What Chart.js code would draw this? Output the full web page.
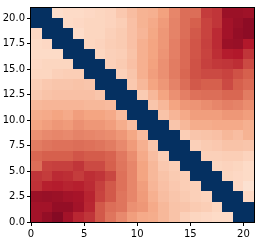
<!DOCTYPE html>
<html>
<head>
<meta charset="utf-8">
<script src="https://cdn.jsdelivr.net/npm/chart.js@4.4.0/dist/chart.umd.min.js"></script>
<style>
  html, body { margin: 0; padding: 0; background: #fff; }
</style>
</head>
<body>
<canvas id="grafico" width="259" height="244"></canvas>
<script>
// ticks
const xTicks = [0, 5, 10, 15, 20];
const yTicks = [0, 2.5, 5, 7.5, 10, 12.5, 15, 17.5, 20];

// valores das células, linha de cima (y=20) até a de baixo (y=0), colunas x=0..20
const grade = [
  [0, 0, .59, .60, .60, .605, .61, .615, .635, .655, .675, .68, .705, .745, .78, .78, .85, .86, .93, .93, .925],
  [0, 0, 0, .60, .605, .61, .61, .615, .625, .65, .675, .69, .715, .75, .78, .80, .84, .86, .92, .935, .95],
  [.605, 0, 0, 0, .595, .61, .61, .62, .63, .65, .67, .695, .72, .75, .78, .81, .84, .875, .92, .94, .95],
  [.60, .605, 0, 0, 0, .61, .615, .625, .63, .65, .68, .70, .72, .755, .785, .815, .845, .875, .93, .935, .90],
  [.60, .60, .60, 0, 0, 0, .61, .62, .625, .645, .68, .70, .725, .755, .785, .815, .84, .87, .895, .90, .86],
  [.605, .61, .61, .61, 0, 0, 0, .62, .63, .65, .68, .705, .73, .76, .785, .82, .845, .855, .86, .87, .83],
  [.61, .61, .62, .625, .625, 0, 0, 0, .62, .64, .68, .71, .73, .76, .79, .82, .83, .83, .84, .82, .80],
  [.625, .635, .64, .64, .645, .64, 0, 0, 0, .635, .665, .70, .72, .75, .78, .81, .80, .80, .83, .80, .785],
  [.635, .645, .65, .65, .65, .65, .64, 0, 0, 0, .63, .665, .70, .73, .755, .775, .78, .78, .79, .79, .76],
  [.665, .67, .67, .67, .67, .665, .665, .66, 0, 0, 0, .64, .665, .70, .72, .725, .735, .745, .755, .75, .735],
  [.685, .69, .70, .69, .71, .70, .70, .69, .66, 0, 0, 0, .645, .67, .69, .71, .71, .71, .72, .72, .71],
  [.70, .71, .72, .715, .73, .72, .72, .71, .685, .655, 0, 0, 0, .64, .665, .685, .685, .69, .69, .69, .68],
  [.73, .74, .745, .74, .75, .745, .74, .735, .72, .695, .66, 0, 0, 0, .625, .64, .645, .65, .665, .655, .675],
  [.76, .77, .775, .775, .78, .775, .77, .76, .74, .715, .68, .64, 0, 0, 0, .62, .63, .635, .645, .645, .64],
  [.79, .80, .80, .80, .815, .805, .805, .795, .765, .735, .69, .655, .625, 0, 0, 0, .62, .62, .625, .625, .615],
  [.78, .84, .845, .845, .86, .83, .83, .80, .77, .745, .70, .665, .635, .625, 0, 0, 0, .61, .615, .61, .60],
  [.86, .85, .875, .87, .85, .87, .86, .835, .775, .745, .70, .665, .645, .63, .625, 0, 0, 0, .61, .605, .60],
  [.865, .89, .895, .885, .89, .875, .845, .81, .775, .745, .71, .67, .65, .635, .625, .62, 0, 0, 0, .605, .58],
  [.93, .935, .93, .92, .915, .885, .84, .81, .77, .745, .715, .68, .655, .64, .63, .62, .615, 0, 0, 0, .605],
  [.92, .92, .94, .94, .92, .88, .81, .78, .77, .73, .72, .69, .665, .645, .64, .63, .625, .61, 0, 0, 0],
  [.92, .94, .96, .92, .88, .86, .81, .77, .74, .71, .69, .685, .665, .645, .62, .61, .605, .60, .60, 0, 0]
];

// RdBu_r
const paleta = ['#053061', '#2166ac', '#4393c3', '#92c5de', '#d1e5f0', '#f7f7f7',
                '#fddbc7', '#f4a582', '#d6604d', '#b2182b', '#67001f'];

function hex(h) {
  return [1, 3, 5].map(i => parseInt(h.substr(i, 2), 16));
}
function cor(v) {
  const t = Math.max(0, Math.min(1, v)) * (paleta.length - 1);
  const i = Math.min(Math.floor(t), paleta.length - 2);
  const f = t - i;
  const a = hex(paleta[i]), b = hex(paleta[i + 1]);
  const c = a.map((x, k) => Math.round(x + f * (b[k] - x)));
  return `rgb(${c[0]},${c[1]},${c[2]})`;
}

const n = grade.length;
const celulas = [];
grade.forEach((linha, r) => {
  linha.forEach((v, c) => celulas.push({ x: c + 0.5, y: n - 1 - r + 0.5, v: v }));
});

const mapaCalor = {
  id: 'mapaCalor',
  beforeDatasetsDraw(chart) {
    const { ctx, scales: { x, y } } = chart;
    ctx.save();
    chart.data.datasets[0].data.forEach(p => {
      const x0 = Math.round(x.getPixelForValue(p.x - 0.5));
      const x1 = Math.round(x.getPixelForValue(p.x + 0.5));
      const y0 = Math.round(y.getPixelForValue(p.y + 0.5));
      const y1 = Math.round(y.getPixelForValue(p.y - 0.5));
      ctx.fillStyle = cor(p.v);
      ctx.fillRect(x0, y0, x1 - x0, y1 - y0);
    });
    ctx.restore();
  },
  afterDatasetsDraw(chart) {
    const { ctx, chartArea: a } = chart;
    ctx.save();
    ctx.strokeStyle = '#000';
    ctx.lineWidth = 1;
    ctx.strokeRect(Math.round(a.left) - 0.5, Math.round(a.top) - 0.5,
      Math.round(a.right - a.left) + 1, Math.round(a.bottom - a.top) + 1);
    ctx.restore();
  }
};

const fonte = { family: 'DejaVu Sans', size: 10 };

new Chart(document.getElementById('grafico').getContext('2d'), {
  type: 'scatter',
  data: {
    datasets: [{ data: celulas, pointRadius: 0, pointHoverRadius: 0 }]
  },
  options: {
    responsive: false,
    animation: false,
    events: [],
    layout: { padding: { top: 5, right: 5, left: 0, bottom: 0 } },
    plugins: { legend: { display: false }, tooltip: { enabled: false } },
    scales: {
      x: {
        type: 'linear', min: 0, max: n,
        afterBuildTicks: s => { s.ticks = xTicks.map(v => ({ value: v })); },
        afterFit: s => { s.height = 22; },
        grid: { drawOnChartArea: false, drawTicks: true, tickLength: 4, tickColor: '#000' },
        border: { display: true, color: '#000' },
        ticks: { color: '#000', font: fonte, padding: 2, maxRotation: 0, autoSkip: false }
      },
      y: {
        type: 'linear', min: 0, max: n,
        afterBuildTicks: s => { s.ticks = yTicks.map(v => ({ value: v })); },
        afterFit: s => { s.width = 31; },
        grid: { drawOnChartArea: false, drawTicks: true, tickLength: 4, tickColor: '#000' },
        border: { display: true, color: '#000' },
        ticks: { color: '#000', font: fonte, padding: 2, autoSkip: false, callback: v => v.toFixed(1) }
      }
    }
  },
  plugins: [mapaCalor]
});
</script>
</body>
</html>
